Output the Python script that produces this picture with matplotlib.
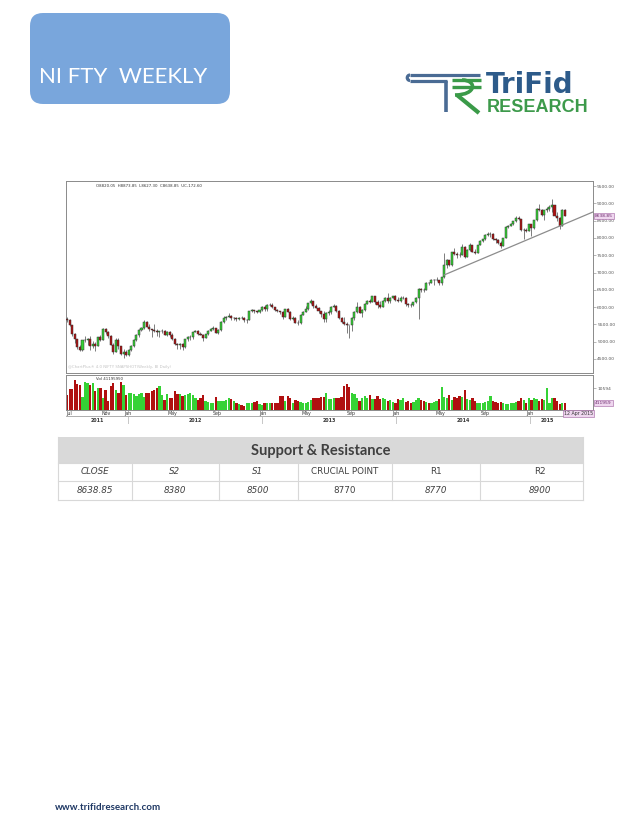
import numpy as np
import pandas as pd
import matplotlib
matplotlib.use("Agg")
import matplotlib.pyplot as plt
import matplotlib.dates as mdates
from matplotlib.patches import FancyBboxPatch, Rectangle, Arc, PathPatch
from matplotlib.path import Path

W, H = 638, 826

# ---- data (weekly NIFTY) ----
weeks = pd.date_range("2011-07-18", periods=195, freq="7D")
first_open = 5650

close = [
    5633, 5482, 5211, 5073, 4846, 4747, 5040, 5059, 5084, 4868,
    4943, 4888, 5132, 5050, 5361, 5284, 5168, 4906, 4710, 5050,
    4866, 4651, 4714, 4624, 4754, 4866, 5049, 5205, 5326, 5382,
    5564, 5429, 5359, 5334, 5318, 5278, 5296, 5323, 5207, 5290,
    5190, 5087, 4929, 4891, 4921, 4842, 5068, 5139, 5146, 5279,
    5317, 5227, 5205, 5100, 5215, 5320, 5366, 5387, 5258, 5342,
    5577, 5691, 5703, 5747, 5676, 5684, 5664, 5697, 5686, 5631,
    5635, 5880, 5907, 5880, 5848, 5908, 6016, 5951, 6064, 6074,
    5998, 5903, 5887, 5850, 5719, 5945, 5872, 5651, 5682, 5553,
    5528, 5783, 5871, 5944, 6107, 6187, 6028, 5985, 5881, 5809,
    5667, 5842, 5867, 6009, 6029, 5886, 5678, 5566, 5508, 5472,
    5471, 5681, 5850, 6012, 5833, 5907, 6096, 6189, 6145, 6307,
    6141, 6056, 5995, 6176, 6259, 6168, 6274, 6313, 6211, 6171,
    6261, 6266, 6089, 6063, 6048, 6155, 6277, 6527, 6504, 6493,
    6696, 6695, 6776, 6779, 6783, 6694, 6859, 7203, 7367, 7229,
    7583, 7542, 7511, 7508, 7751, 7459, 7663, 7790, 7602, 7568,
    7792, 7913, 7954, 8087, 8105, 8121, 7968, 7946, 7860, 7780,
    7995, 8322, 8337, 8390, 8477, 8588, 8538, 8224, 8225, 8200,
    8395, 8285, 8513, 8835, 8809, 8661, 8805, 8833, 8901, 8937,
    8647, 8570, 8342, 8820, 8638.85,
]

high = [
    5720, 5650, 5490, 5250, 5090, 4900, 5060, 5170, 5120, 5170,
    5030, 5000, 5140, 5200, 5400, 5400, 5300, 5180, 4950, 5100,
    5100, 4880, 4790, 4760, 4790, 4900, 5070, 5220, 5360, 5420,
    5630, 5590, 5500, 5380, 5500, 5370, 5300, 5380, 5330, 5320,
    5300, 5250, 5100, 4960, 4950, 4960, 5080, 5160, 5180, 5290,
    5350, 5330, 5270, 5220, 5230, 5330, 5400, 5450, 5390, 5360,
    5590, 5730, 5740, 5820, 5760, 5720, 5720, 5720, 5730, 5700,
    5660, 5890, 5950, 5930, 5900, 5920, 6020, 6050, 6080, 6110,
    6110, 6010, 5940, 5900, 5900, 5950, 5970, 5880, 5740, 5720,
    5620, 5790, 5900, 6020, 6120, 6230, 6190, 6100, 6000, 5900,
    5890, 5860, 5920, 6020, 6090, 6050, 5910, 5700, 5700, 5560,
    5480, 5700, 5880, 6140, 6020, 5940, 6110, 6210, 6240, 6330,
    6310, 6200, 6170, 6200, 6300, 6410, 6290, 6330, 6360, 6280,
    6330, 6330, 6280, 6120, 6130, 6160, 6280, 6540, 6560, 6540,
    6720, 6730, 6820, 6800, 6870, 6790, 6870, 7563, 7380, 7370,
    7600, 7700, 7580, 7590, 7810, 7760, 7670, 7840, 7800, 7670,
    7800, 7930, 7970, 8100, 8180, 8160, 8140, 8010, 7980, 7900,
    8010, 8330, 8370, 8420, 8490, 8620, 8630, 8550, 8280, 8290,
    8410, 8410, 8530, 8860, 8990, 8830, 8820, 8900, 8940, 9120,
    8940, 8750, 8590, 8840, 8845,
]

low = [
    5560, 5450, 5160, 4950, 4800, 4720, 4740, 4990, 4910, 4760,
    4830, 4730, 4880, 5020, 5040, 5210, 5110, 4890, 4640, 4700,
    4800, 4620, 4530, 4590, 4590, 4740, 4860, 5020, 5150, 5310,
    5360, 5420, 5300, 5140, 5290, 5170, 5140, 5250, 5180, 5170,
    5150, 5060, 4900, 4790, 4790, 4770, 4830, 5030, 5040, 5090,
    5270, 5180, 5190, 5030, 5100, 5200, 5300, 5350, 5240, 5220,
    5320, 5550, 5620, 5700, 5640, 5640, 5610, 5630, 5660, 5560,
    5550, 5630, 5860, 5820, 5820, 5820, 5900, 5880, 5900, 6040,
    5980, 5880, 5860, 5800, 5670, 5700, 5860, 5640, 5630, 5530,
    5480, 5520, 5770, 5860, 5930, 6100, 5970, 5960, 5840, 5720,
    5570, 5570, 5780, 5810, 5990, 5860, 5670, 5540, 5490, 5250,
    5120, 5320, 5640, 5840, 5820, 5700, 5900, 6090, 6110, 6140,
    6100, 5970, 5970, 5990, 6160, 6130, 6130, 6250, 6190, 6140,
    6150, 6240, 6030, 5990, 5990, 6040, 6130, 5650, 6440, 6450,
    6480, 6650, 6690, 6650, 6740, 6640, 6640, 6850, 7130, 7200,
    7200, 7520, 7420, 7450, 7500, 7420, 7440, 7620, 7590, 7540,
    7550, 7790, 7870, 7950, 8060, 8020, 7940, 7840, 7820, 7720,
    7780, 7990, 8290, 8330, 8380, 8470, 8510, 8190, 7960, 8170,
    8190, 8060, 8270, 8500, 8770, 8640, 8530, 8750, 8780, 8750,
    8630, 8500, 8270, 8330, 8620,
]

volume = [
    7500, 10000, 10000, 14500, 12500, 12000, 6500, 13500, 13000, 12000,
    13000, 9000, 10500, 10500, 6000, 9500, 4500, 11500, 13000, 9500,
    8500, 13500, 12000, 7500, 8500, 8500, 8000, 7000, 8000, 8500,
    6500, 8500, 8500, 9000, 9500, 10500, 11500, 7500, 5000, 8000,
    6000, 6000, 9000, 8000, 8000, 7000, 7500, 8000, 8500, 7500,
    6000, 5000, 6000, 7500, 4500, 4000, 3500, 3500, 6500, 4500,
    4500, 4500, 5000, 6000, 5500, 4500, 3500, 3000, 2500, 2000,
    3500, 3500, 3500, 4000, 4500, 3000, 2500, 3500, 3500, 3500,
    3500, 3500, 3500, 7000, 7000, 4500, 7000, 6000, 3500, 5000,
    4500, 4000, 3500, 3500, 4000, 5000, 6000, 6000, 6000, 6500,
    6500, 8500, 5500, 5500, 6000, 6000, 6000, 6500, 11500, 12500,
    11000, 8500, 8000, 6000, 4500, 6000, 7000, 6000, 7500, 5500,
    5500, 7000, 5500, 6000, 5500, 4500, 5000, 4000, 3500, 5500,
    5000, 6000, 4000, 4500, 3500, 4000, 5000, 6000, 5000, 4500,
    4000, 3500, 3500, 4000, 4500, 5500, 11000, 6500, 6000, 7500,
    5000, 6500, 6000, 7000, 6500, 9500, 5500, 5000, 6000, 4500,
    3500, 3500, 3500, 4000, 4500, 7000, 4500, 4000, 3500, 4000,
    3500, 3000, 3000, 3500, 3500, 4000, 4500, 6000, 5000, 3500,
    6000, 5000, 6000, 5500, 4500, 5500, 5000, 10500, 3500, 6000,
    6000, 4500, 3000, 3500, 3500,
]

price_ticks = [4500, 5000, 5500, 6000, 6500, 7000, 7500, 8000, 8500, 9000, 9500]
vol_tick = 10594
month_ticks = ["2011-11-01", "2012-01-01", "2012-05-01", "2012-09-01", "2013-01-01",
               "2013-05-01", "2013-09-01", "2014-01-01", "2014-05-01", "2014-09-01",
               "2015-01-01"]
month_labels = ["Nov", "Jan", "May", "Sep", "Jan", "May", "Sep", "Jan", "May", "Sep", "Jan"]
years = [2011, 2012, 2013, 2014, 2015]
trend_start = ("2014-05-12", 6930)
trend_end_value = 8750

table_title = "Support & Resistance"
table_cols = ["CLOSE", "S2", "S1", "CRUCIAL POINT", "R1", "R2"]
table_vals = ["8638.85", "8380", "8500", "8770", "8770", "8900"]

# ---- figure ----
fig = plt.figure(figsize=(W / 100, H / 100), dpi=100)
bg = fig.add_axes([0, 0, 1, 1])
bg.set_xlim(0, W)
bg.set_ylim(H, 0)
bg.axis("off")


def fax(x0, y0, x1, y1):
    return fig.add_axes([x0 / W, 1 - y1 / H, (x1 - x0) / W, (y1 - y0) / H])


# title box
bg.add_patch(FancyBboxPatch((30, 13), 200, 91, boxstyle="round,pad=0,rounding_size=13",
                            facecolor="#79a6dc", edgecolor="none"))
bg.text(39, 83, "NI FTY  WEEKLY", color="white", fontsize=16, family="Lato",
        va="baseline", ha="left")

# logo
blue = "#4a6b94"
green_logo = "#3a9a48"
bg.plot([410, 480], [75, 75], color=blue, lw=2.3, solid_capstyle="butt")
bg.plot([410, 447], [80.5, 80.5], color=blue, lw=2.3, solid_capstyle="butt")
bg.add_patch(Arc((410, 77.75), 5.5, 5.5, theta1=90, theta2=270, color=blue, lw=2.3))
bg.plot([446, 446], [80.5, 112], color=blue, lw=2.6, solid_capstyle="butt")
bg.plot([452, 481], [80, 80], color=green_logo, lw=2.4, solid_capstyle="butt")
bg.plot([452, 481], [87, 87], color=green_logo, lw=2.4, solid_capstyle="butt")
bowl = Path([(462, 80), (477, 80), (477, 95), (455, 95)],
            [Path.MOVETO, Path.CURVE4, Path.CURVE4, Path.CURVE4])
bg.add_patch(PathPatch(bowl, facecolor="none", edgecolor=green_logo, lw=2.6))
bg.plot([457, 479], [95, 113], color=green_logo, lw=3.0, solid_capstyle="butt")
bg.text(486, 93, "TriFid", color="#2d5b8a", fontsize=20, fontweight="bold",
        family="DejaVu Sans", va="baseline")
bg.text(487, 112, "RESEARCH", color="#3d9a4b", fontsize=13, fontweight="bold",
        family="Liberation Sans", va="baseline")

# ---- price panel ----
ax = fax(66, 181, 593, 373)
vax = fax(66, 375, 593, 410)
lax = fax(66, 410, 593, 424)

xd = mdates.date2num(weeks.to_pydatetime())
xmin, xmax = xd[0] - 3, xd[-1] + 77
o = np.array([first_open] + close[:-1], dtype=float)
c = np.array(close, dtype=float)
up = c >= o
green = "#35d235"
red = "#b01010"
colors = np.where(up, green, red)

ax.vlines(xd, low, high, color="#4a4a4a", lw=0.5, zorder=2)
ax.bar(xd, np.abs(c - o), bottom=np.minimum(o, c), width=5.6, color=colors,
       edgecolor="#333333", linewidth=0.35, zorder=3)
ax.plot([mdates.datestr2num(trend_start[0]), xmax], [trend_start[1], trend_end_value],
        color="#8c8c8c", lw=0.9, zorder=4)
ax.set_xlim(xmin, xmax)
ax.set_ylim(4095, 9645)
ax.set_xticks([])
ax.yaxis.tick_right()
ax.set_yticks(price_ticks)
ax.set_yticklabels([f"{v:.2f}" for v in price_ticks])
ax.tick_params(axis="y", labelsize=3.2, labelcolor="#555555", length=2, width=0.4,
               color="#808080", pad=1)
for s in ax.spines.values():
    s.set_color("#8a8a8a")
    s.set_linewidth(0.7)
ax.text(1.004, close[-1], f"{close[-1]:.2f}", transform=ax.get_yaxis_transform(),
        fontsize=3.2, color="#6a2a6a", va="center", ha="left", zorder=6,
        bbox=dict(boxstyle="square,pad=0.25", facecolor="#efd6ef", edgecolor="#a060a0", lw=0.4))
ax.text(0.057, 0.985, "O8820.05  H8873.85  L8627.30  C8638.85  UC-172.60",
        transform=ax.transAxes, fontsize=2.8, color="#333333", va="top")
ax.text(0.004, 0.02, "@ChartPlus® 4.0 NIFTY SNAPSHOT(Weekly, BI Daily)",
        transform=ax.transAxes, fontsize=2.8, color="#c4c4c4", va="bottom")

# ---- volume panel ----
vax.bar(xd, volume, width=6.2, color=colors, linewidth=0)
vax.set_xlim(xmin, xmax)
vax.set_ylim(0, 17000)
vax.set_xticks(mdates.datestr2num(month_ticks))
vax.set_xticklabels([])
vax.tick_params(axis="x", length=1.5, width=0.4, color="#808080")
vax.yaxis.tick_right()
vax.set_yticks([vol_tick])
vax.set_yticklabels([str(vol_tick)])
vax.tick_params(axis="y", labelsize=3.2, labelcolor="#555555", length=2, width=0.4,
                color="#808080", pad=1)
for s in vax.spines.values():
    s.set_color("#8a8a8a")
    s.set_linewidth(0.7)
vax.text(0.057, 0.93, "Vol 41195950", transform=vax.transAxes, fontsize=2.8,
         color="#333333", va="top")
vax.text(1.004, volume[-1], "411959", transform=vax.get_yaxis_transform(),
         fontsize=3.2, color="#6a2a6a", va="center", ha="left",
         bbox=dict(boxstyle="square,pad=0.25", facecolor="#efd6ef", edgecolor="#a060a0", lw=0.4))

# ---- date label rows ----
lax.set_xlim(xmin, xmax)
lax.set_ylim(0, 1)
lax.axis("off")
lax.text(xmin + 1, 0.78, "Jul", fontsize=3.4, color="#333333", ha="left", va="center")
for d, lab in zip(month_ticks, month_labels):
    lax.text(mdates.datestr2num(d), 0.78, lab, fontsize=3.4, color="#333333",
             ha="center", va="center")
lax.axhline(0.56, color="#a0a0a0", lw=0.6)
for y in years:
    y0 = max(mdates.datestr2num(f"{y}-01-01"), xmin)
    y1 = min(mdates.datestr2num(f"{y + 1}-01-01"), xd[-1])
    if y > years[0]:
        lax.plot([y0, y0], [0.0, 0.56], color="#b0b0b0", lw=0.5)
    lax.text((y0 + y1) / 2, 0.26, str(y), fontsize=3.4, color="#333333",
             ha="center", va="center", fontweight="bold")
lax.text(xmax, 0.78, "12 Apr 2015", fontsize=3.4, color="#333333", ha="right", va="center",
         bbox=dict(boxstyle="square,pad=0.2", facecolor="#efd6ef", edgecolor="#a060a0", lw=0.4))

# ---- support / resistance table ----
tl, tr, t0, t1, t2, t3 = 58, 583, 437, 463, 481, 500
seps = [132, 219, 298, 392, 480]
centers = [95, 175, 258, 345, 436, 540]
col_style = ["italic", "italic", "italic", "normal", "normal", "normal"]
val_style = ["italic", "italic", "italic", "normal", "italic", "italic"]
line_c = "#d8d8d8"
bg.add_patch(Rectangle((tl, t0), tr - tl, t1 - t0, facecolor="#d9d9d9", edgecolor="none"))
for yy in (t1, t2, t3):
    bg.plot([tl, tr], [yy, yy], color=line_c, lw=0.8)
for xx in [tl] + seps + [tr]:
    bg.plot([xx, xx], [t1 if xx in seps else t0, t3], color=line_c, lw=0.8)
bg.text((tl + tr) / 2, (t0 + t1) / 2 + 1, table_title, fontsize=10.5, fontweight="bold",
        family="Lato", color="#404040", ha="center", va="center")
for cx, name, st in zip(centers, table_cols, col_style):
    bg.text(cx, (t1 + t2) / 2, name, fontsize=6.3, color="#404040", style=st,
            ha="center", va="center")
for cx, val, st in zip(centers, table_vals, val_style):
    bg.text(cx, (t2 + t3) / 2, val, fontsize=6.3, color="#404040", style=st,
            ha="center", va="center")

# footer
bg.text(55, 808, "www.trifidresearch.com", fontsize=7, fontweight="bold", family="Lato",
        color="#1f3864", va="center", ha="left")

fig.savefig("out.png", dpi=100)
